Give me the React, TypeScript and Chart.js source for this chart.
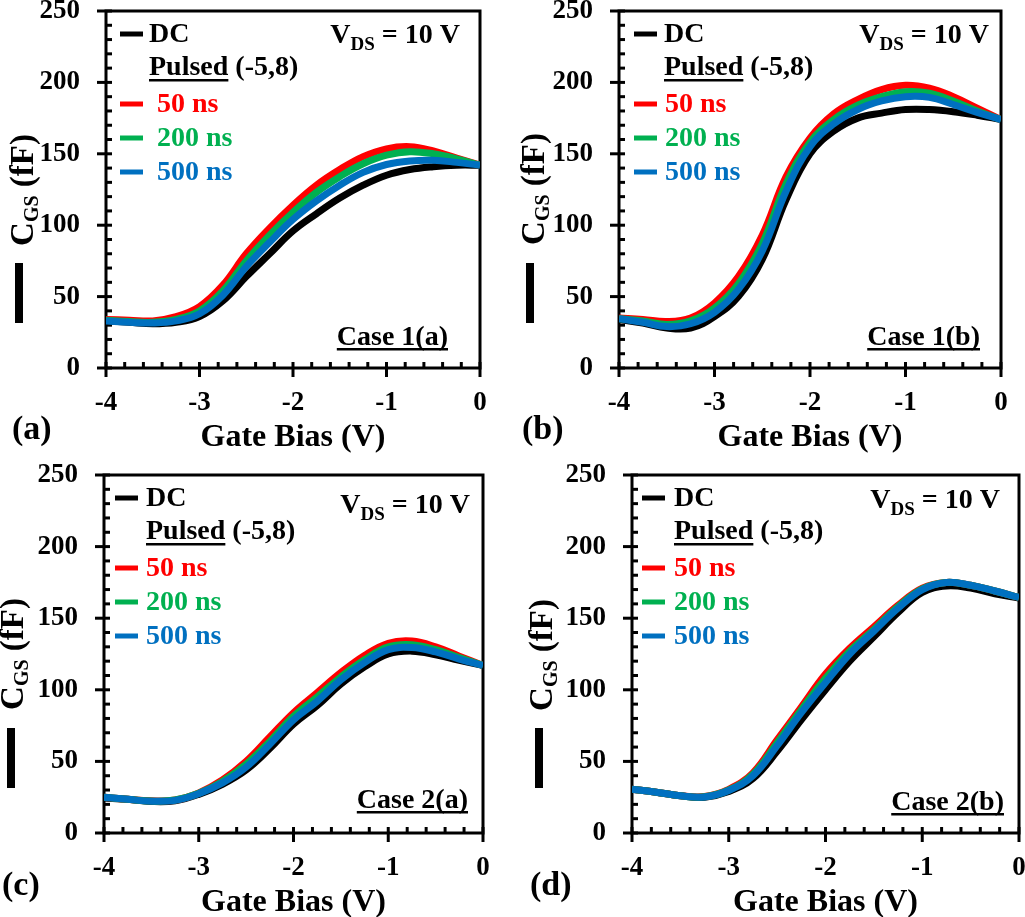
import React, { useEffect, useRef } from "react";
import { Chart, registerables } from "chart.js";

Chart.register(...registerables);

// Gate bias sweep (V)
const gateBias = [-4, -3.75, -3.5, -3.25, -3, -2.75, -2.5, -2.25, -2, -1.75, -1.5, -1.25, -1, -0.75, -0.5, -0.25, 0];

// Axis ticks
const xTickValues = [-4, -3, -2, -1, 0];
const yTickValues = [0, 50, 100, 150, 200, 250];

// Case 1(a): C_GS (fF)
const case1aDC = [33, 32, 31, 32, 36, 47, 64, 80, 96, 108, 119, 128, 135, 139, 141, 142, 142];
const case1a50 = [34, 33.5, 33, 36, 43, 58, 80, 98, 114, 128, 139, 148, 153.5, 155, 152, 147, 142];
const case1a200 = [33.5, 32.5, 32, 34, 40, 54, 75, 93, 109, 123, 134, 143, 149, 151.5, 150, 146.5, 142];
const case1a500 = [33, 32, 31.5, 33, 38, 51, 71, 88, 104, 117, 128, 137, 142.5, 145, 145.5, 144, 142];

// Case 1(b)
const case1bDC = [34, 31.5, 28, 28, 36, 50, 76, 118, 150, 166, 175, 178.5, 181, 181, 179.5, 177, 174];
const case1b50 = [35, 34, 32.5, 35, 45.5, 64, 93, 134, 161, 178, 188, 195, 198, 196, 190, 182, 174];
const case1b200 = [34.5, 33, 30.5, 33, 42, 59, 87, 129, 158, 174, 184, 190, 193.5, 192.5, 187, 180, 174];
const case1b500 = [34.5, 32, 29, 31, 39, 55, 82, 124, 155, 171, 181, 187, 190, 189.5, 184.5, 179, 174];

// Case 2(a)
const case2aDC = [24.5, 23.5, 22, 22.5, 27, 34, 44, 59, 76, 89, 104, 116, 125, 127, 124.5, 120.5, 117];
const case2a50 = [25, 23.5, 22.5, 23, 28, 37, 50, 67, 84, 98, 112, 124, 132.5, 134, 130, 123.5, 117];
const case2a200 = [25, 23.5, 22.3, 23, 27.7, 36, 48, 64, 81.5, 95, 109, 121, 130, 131.5, 128, 122.5, 117];
const case2a500 = [25, 23.5, 22.2, 22.8, 27.5, 35, 46, 62, 79, 92, 107, 119, 128, 129.5, 126.5, 121.5, 117];

// Case 2(b)
const case2bDC = [30.5, 28.5, 26, 25, 29, 38, 57, 79, 100, 120, 137, 154, 168, 172.5, 171, 167, 164];
const case2b50 = [30.5, 28.5, 26, 25.5, 30.5, 42, 65, 88, 111, 129, 144, 159, 171, 175, 173, 169, 164.5];
const case2b200 = [30.5, 28.5, 26, 25.3, 30, 41, 63, 86, 108, 127, 142, 158, 170.5, 175, 173, 169, 164.5];
const case2b500 = [30.5, 28.5, 26, 25.2, 29.7, 40, 61, 84, 105, 125, 141, 157, 170, 175, 173, 169, 164.5];

// Legend / annotation text
const seriesLabels = ["DC", "50 ns", "200 ns", "500 ns"];
const seriesColors = ["#000000", "#FF0000", "#00B050", "#0070C0"];
const pulsedLabel = "Pulsed";
const pulsedArgs = " (-5,8)";
const xTitle = "Gate Bias (V)";

const SERIF = '"Liberation Serif", "Times New Roman", serif';
const CANVAS_W = 1045;
const CANVAS_H = 917;
const Y_AXIS_W = 90;
const X_AXIS_H = 60;

type PanelDef = {
  tag: string;
  caseLabel: string;
  series: number[][];
  L: number; R: number; T: number; B: number;
  legLine: number; legText: number; nsShift: number;
  vdsRight: number; vdsBase: number;
  caseRight: number; caseBase: number;
  yTitleX: number; yTitleY: number;
  barX: number; barY: number;
  tagX: number; tagY: number;
};

const panels: PanelDef[] = [
  {
    tag: "(a)", caseLabel: "Case 1(a)", series: [case1aDC, case1a50, case1a200, case1a500],
    L: 106, R: 480, T: 11, B: 368,
    legLine: 14, legText: 43, nsShift: 8,
    vdsRight: 20, vdsBase: 32, caseRight: 32, caseBase: 23,
    yTitleX: 33, yTitleY: 190, barX: 15, barY: 263, tagX: 12, tagY: 430,
  },
  {
    tag: "(b)", caseLabel: "Case 1(b)", series: [case1bDC, case1b50, case1b200, case1b500],
    L: 619, R: 1001, T: 11, B: 368,
    legLine: 15, legText: 45, nsShift: 1,
    vdsRight: 12, vdsBase: 32, caseRight: 21, caseBase: 23,
    yTitleX: 544, yTitleY: 189, barX: 526, barY: 263, tagX: 522, tagY: 430,
  },
  {
    tag: "(c)", caseLabel: "Case 2(a)", series: [case2aDC, case2a50, case2a200, case2a500],
    L: 104, R: 483, T: 475, B: 833,
    legLine: 11, legText: 42, nsShift: 0,
    vdsRight: 13, vdsBase: 38, caseRight: 15, caseBase: 25,
    yTitleX: 23, yTitleY: 654, barX: 7, barY: 728, tagX: 2, tagY: 886,
  },
  {
    tag: "(d)", caseLabel: "Case 2(b)", series: [case2bDC, case2b50, case2b200, case2b500],
    L: 632, R: 1019, T: 475, B: 833,
    legLine: 10, legText: 42, nsShift: 0,
    vdsRight: 19, vdsBase: 33, caseRight: 15, caseBase: 23,
    yTitleX: 552, yTitleY: 655, barX: 535, barY: 728, tagX: 530, tagY: 886,
  },
];

function bold(size: number) {
  return `bold ${size}px ${SERIF}`;
}

function strokeLine(ctx: CanvasRenderingContext2D, x1: number, y1: number, x2: number, y2: number) {
  ctx.beginPath();
  ctx.moveTo(x1, y1);
  ctx.lineTo(x2, y2);
  ctx.stroke();
}

function makeDecor(p: PanelDef) {
  return {
    id: "panelDecor",
    beforeDatasetsDraw(chart: any) {
      const ctx: CanvasRenderingContext2D = chart.ctx;
      const { left: L, right: R, top: T, bottom: B } = chart.chartArea;
      const xs = chart.scales.x;
      const ys = chart.scales.y;
      ctx.save();
      ctx.strokeStyle = "#000";
      ctx.lineWidth = 3;
      ctx.lineCap = "butt";
      ctx.strokeRect(L, T, R - L, B - T);
      // y ticks: major every 50 (crossing), minor every 10 (inside)
      for (let v = 0; v <= 250; v += 10) {
        const y = ys.getPixelForValue(v);
        const major = v % 50 === 0;
        strokeLine(ctx, L - (major ? 9 : 0), y, L + 6, y);
      }
      // x ticks: major every 1 V (crossing), minor every 0.2 V (inside)
      for (let i = 0; i <= 20; i++) {
        const x = xs.getPixelForValue(-4 + i * 0.2);
        const major = i % 5 === 0;
        strokeLine(ctx, x, B - 6, x, B + (major ? 9 : 0));
      }
      ctx.restore();
    },
    afterDraw(chart: any) {
      const ctx: CanvasRenderingContext2D = chart.ctx;
      const { left: L, right: R, top: T, bottom: B } = chart.chartArea;
      ctx.save();
      ctx.fillStyle = "#000";
      ctx.textAlign = "left";

      // Legend
      const rows = [23, 93, 127, 161];
      seriesLabels.forEach((label, i) => {
        const y = T + rows[i];
        ctx.strokeStyle = seriesColors[i];
        ctx.lineWidth = 5;
        strokeLine(ctx, L + p.legLine, y, L + p.legLine + 23, y);
        ctx.fillStyle = seriesColors[i];
        ctx.font = bold(28);
        ctx.textBaseline = "middle";
        const tx = L + p.legText + (i === 0 ? 0 : p.nsShift);
        ctx.fillText(label, tx, y + 1);
      });
      // "Pulsed (-5,8)" with underlined "Pulsed"
      {
        const y = T + 57;
        ctx.fillStyle = "#000";
        ctx.font = bold(28);
        ctx.textBaseline = "middle";
        const x0 = L + p.legText;
        ctx.fillText(pulsedLabel, x0, y);
        const w = ctx.measureText(pulsedLabel).width;
        ctx.fillText(pulsedArgs, x0 + w, y);
        ctx.fillRect(x0, y + 11, w, 2.5);
      }

      // V_DS = 10 V
      {
        ctx.fillStyle = "#000";
        ctx.textBaseline = "alphabetic";
        ctx.font = bold(28);
        const wV = ctx.measureText("V").width;
        const rest = " = 10 V";
        const wRest = ctx.measureText(rest).width;
        ctx.font = bold(19);
        const wSub = ctx.measureText("DS").width;
        const total = wV + wSub + wRest;
        let x = R - p.vdsRight - total;
        const base = T + p.vdsBase;
        ctx.font = bold(28);
        ctx.fillText("V", x, base);
        x += wV;
        ctx.font = bold(19);
        ctx.fillText("DS", x, base + 7);
        x += wSub;
        ctx.font = bold(28);
        ctx.fillText(rest, x, base);
      }

      // Case label (underlined)
      {
        ctx.font = bold(28);
        ctx.textBaseline = "alphabetic";
        const w = ctx.measureText(p.caseLabel).width;
        const x = R - p.caseRight - w;
        const base = B - p.caseBase;
        ctx.fillText(p.caseLabel, x, base);
        ctx.fillRect(x, base + 3, w, 2.5);
      }

      // x-axis title
      ctx.font = bold(32);
      ctx.textAlign = "center";
      ctx.textBaseline = "middle";
      ctx.fillText(xTitle, (L + R) / 2, B + 70);

      // y-axis title with subscript, rotated
      {
        ctx.save();
        ctx.translate(p.yTitleX, p.yTitleY);
        ctx.rotate(-Math.PI / 2);
        ctx.textAlign = "left";
        ctx.textBaseline = "alphabetic";
        ctx.font = bold(33);
        const wC = ctx.measureText("C").width;
        const tail = " (fF)";
        const wTail = ctx.measureText(tail).width;
        ctx.font = bold(20);
        const wGS = ctx.measureText("GS").width;
        let x = -(wC + wGS + wTail) / 2;
        ctx.font = bold(33);
        ctx.fillText("C", x, 0);
        x += wC;
        ctx.font = bold(20);
        ctx.fillText("GS", x, 5);
        x += wGS;
        ctx.font = bold(33);
        ctx.fillText(tail, x, 0);
        ctx.restore();
        // dash mark below the title
        ctx.fillRect(p.barX, p.barY, 8, 60);
      }

      // Panel tag
      ctx.font = bold(34);
      ctx.textAlign = "left";
      ctx.textBaseline = "middle";
      ctx.fillText(p.tag, p.tagX, p.tagY);
      ctx.restore();
    },
  };
}

function PanelChart({ p }: { p: PanelDef }) {
  const ref = useRef<HTMLCanvasElement | null>(null);
  useEffect(() => {
    if (!ref.current) return;
    const order = [4, 3, 2, 1];
    const chart = new Chart(ref.current, {
      type: "line",
      data: {
        labels: gateBias,
        datasets: p.series.map((vals, i) => ({
          label: seriesLabels[i],
          data: gateBias.map((x, k) => ({ x, y: vals[k] })),
          borderColor: seriesColors[i],
          backgroundColor: seriesColors[i],
          borderWidth: 7,
          pointRadius: 0,
          tension: 0.4,
          fill: false,
          order: order[i],
        })),
      },
      options: {
        animation: false,
        responsive: false,
        devicePixelRatio: 1,
        events: [],
        layout: {
          padding: {
            left: p.L - Y_AXIS_W,
            right: CANVAS_W - p.R,
            top: p.T,
            bottom: CANVAS_H - p.B - X_AXIS_H,
          },
        },
        plugins: { legend: { display: false }, tooltip: { enabled: false }, title: { display: false } },
        scales: {
          x: {
            type: "linear",
            min: -4,
            max: 0,
            afterBuildTicks: (s: any) => {
              s.ticks = xTickValues.map((v) => ({ value: v }));
            },
            afterFit: (s: any) => {
              s.height = X_AXIS_H;
              s.paddingLeft = 0;
              s.paddingRight = 0;
            },
            grid: { display: false, drawTicks: false },
            border: { display: false },
            ticks: {
              autoSkip: false,
              maxRotation: 0,
              padding: 19,
              color: "#000",
              font: { family: SERIF, size: 27, weight: "bold", lineHeight: 1.2 },
              callback: (v: any) => String(v),
            },
          },
          y: {
            type: "linear",
            min: 0,
            max: 250,
            afterBuildTicks: (s: any) => {
              s.ticks = yTickValues.map((v) => ({ value: v }));
            },
            afterFit: (s: any) => {
              s.width = Y_AXIS_W;
              s.paddingTop = 0;
              s.paddingBottom = 0;
            },
            grid: { display: false, drawTicks: false },
            border: { display: false },
            ticks: {
              autoSkip: false,
              padding: 26,
              color: "#000",
              font: { family: SERIF, size: 27, weight: "bold", lineHeight: 1.2 },
              callback: (v: any) => String(v),
            },
          },
        },
      },
      plugins: [makeDecor(p)],
    } as any);
    return () => chart.destroy();
  }, [p]);
  return (
    <canvas
      ref={ref}
      width={CANVAS_W}
      height={CANVAS_H}
      style={{ position: "absolute", left: 0, top: 0, width: CANVAS_W, height: CANVAS_H }}
    />
  );
}

export default function App() {
  return (
    <div
      style={{
        position: "absolute",
        left: 0,
        top: 0,
        width: 1025,
        height: 917,
        overflow: "hidden",
        background: "#fff",
      }}
    >
      {panels.map((p) => (
        <PanelChart key={p.tag} p={p} />
      ))}
    </div>
  );
}
